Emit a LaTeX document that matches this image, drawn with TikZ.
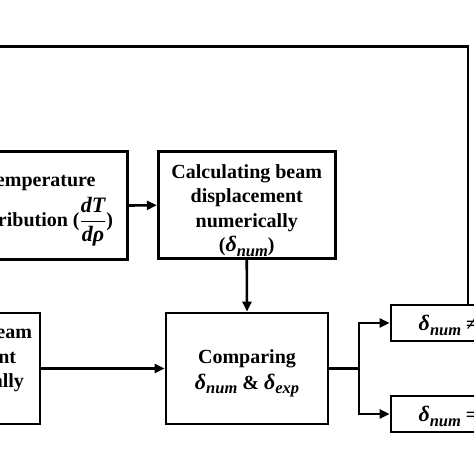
\documentclass[tikz,border=0pt]{standalone}
\usepackage{amsmath}
\usepackage{fontspec}
\setmainfont{Liberation Serif}
\usetikzlibrary{arrows.meta}
\newcommand{\dsym}[1]{{\fontsize{22}{24}\selectfont\itshape δ}\raisebox{-4.5pt}{\fontsize{16.5}{18}\selectfont\itshape #1}}
\newcommand{\dfr}{\ensuremath{\genfrac{}{}{1pt}{0}{\text{\fontsize{22}{24}\selectfont\itshape dT}}{\text{\fontsize{22}{24}\selectfont\itshape dρ}}}}
\begin{document}
\begin{tikzpicture}[x=1pt,y=-1pt,
  box/.style={draw, line width=2.8pt, inner sep=0pt},
  txt/.style={align=center, inner sep=0pt,
    font=\bfseries\fontsize{20}{24.5}\selectfont},
  arr/.style={line width=2.6pt, -{Triangle[length=10pt,width=9pt]}},
  ln/.style={line width=2.6pt}]
\useasboundingbox (0,0) rectangle (474,474);
\clip (0,0) rectangle (474,474);
\node[box, minimum width=175pt, minimum height=108pt,
  label={[txt, yshift=-4pt]center:Temperature\\[6pt]distribution (\dfr)}] (temp) at (40,205.5) {};
\node[box, minimum width=177pt, minimum height=107pt,
  label={[txt, yshift=-5pt]center:Calculating beam\\displacement\\numerically\\(\dsym{num})}] (calc) at (246.75,205.25) {};
\node[box, minimum width=160pt, minimum height=111pt,
  label={[txt, yshift=-4pt]center:Measuring beam\\displacement\\experimentally\\(\dsym{exp})}] (meas) at (-40,368.5) {};
\node[box, minimum width=162pt, minimum height=111pt,
  label={[txt, yshift=-5pt]center:Comparing\\[1pt]\dsym{num} \& \dsym{exp}}] (cmp) at (247,368.5) {};
\node[box, minimum width=154pt, minimum height=36pt,
  label={[txt, yshift=-4pt]center:\dsym{num} ≠ \dsym{exp}}] (neq) at (468,323) {};
\node[box, minimum width=154pt, minimum height=36pt,
  label={[txt, yshift=-4pt]center:\dsym{num} = \dsym{exp}}] (eq) at (468,414) {};
\coordinate (br) at (359,368.5);
\coordinate (fb) at (-60,46.7);
\draw[arr] (temp.east) -- (calc.west);
\draw[arr] (calc.south) -- (cmp.north);
\draw[arr] (meas.east) -- (cmp.west);
\draw[ln] (cmp.east) -- (br);
\draw[arr] (br) |- (neq.west);
\draw[arr] (br) |- (eq.west);
\draw[ln] (neq.north) -- (neq.north |- fb) -- (fb);
\end{tikzpicture}
\end{document}
